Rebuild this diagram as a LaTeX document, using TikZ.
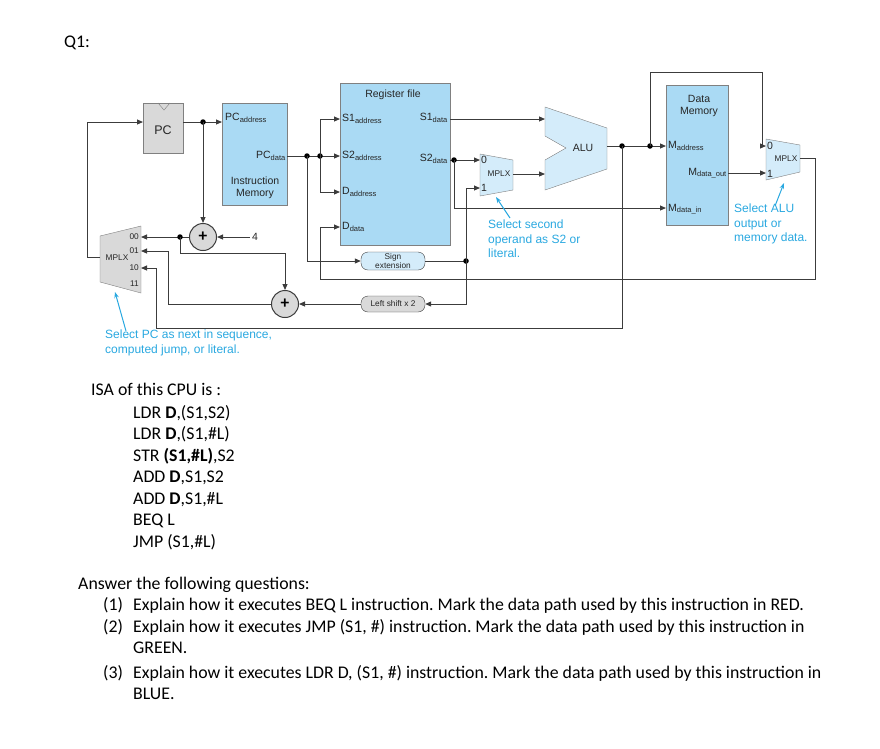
\documentclass[tikz,border=0pt]{standalone}
\usepackage{fontspec}
\setmainfont{Carlito}
\newfontfamily\dsf{Liberation Sans}
\usetikzlibrary{arrows.meta,calc}
\definecolor{rfblue}{RGB}{170,218,244}
\definecolor{lblue}{RGB}{212,236,250}
\definecolor{gbox}{RGB}{217,217,217}
\definecolor{annot}{RGB}{41,168,224}
\definecolor{wire}{RGB}{60,60,60}
\newcommand{\sbs}[1]{\textsubscript{\fontsize{7.5}{7.5}\selectfont #1}}
\frenchspacing
\begin{document}
\begin{tikzpicture}[x=1pt,y=-1pt,
  w/.style={draw=wire,line width=1pt},
  a/.style={w,-{Triangle[length=6pt,width=5pt]}},
  dot/.style={circle,fill=black,inner sep=0pt,minimum size=5.5pt},
  lb/.style={font=\dsf\fontsize{10.5}{12}\selectfont,inner sep=0pt,text=black!85},
  sm/.style={font=\dsf\fontsize{8.3}{9}\selectfont,inner sep=0pt,text=black!85},
  an/.style={font=\dsf\fontsize{12}{14.5}\selectfont,text=annot,align=left,inner sep=0pt,anchor=north west},
  aa/.style={draw=annot,line width=1pt,-{Stealth[length=6pt]}},
  qt/.style={font=\fontsize{17.8}{21}\selectfont\frenchspacing,inner sep=0pt,anchor=base west}]
\useasboundingbox (0,0) rectangle (880,748);
% boxes
\draw[draw=gray,fill=gbox] (143,103) rectangle (183,153);
\draw[draw=gray] (158,103)--(164,110)--(170,103);
\node[lb,font=\dsf\fontsize{12.5}{13}\selectfont] (pc) at (163,130) {PC};
\draw[draw=gray,fill=rfblue] (222,103) rectangle (287,205);
\node[lb] (im) at (255,188) [align=center]{Instruction\\Memory};
\node[lb,anchor=west] at (225,118) {PC\sbs{address}};
\node[lb,anchor=east] at (286,156) {PC\sbs{data}};
\draw[draw=gray,fill=rfblue] (340,83) rectangle (450,245);
\node[lb] (rf) at (393,95) {Register file};
\node[lb,anchor=west] at (342,119) {S1\sbs{address}};
\node[lb,anchor=west] at (342,156) {S2\sbs{address}};
\node[lb,anchor=west] at (342,192) {D\sbs{address}};
\node[lb,anchor=west] at (342,227) {D\sbs{data}};
\node[lb,anchor=east] at (448,118) {S1\sbs{data}};
\node[lb,anchor=east] at (448,159) {S2\sbs{data}};
\draw[draw=gray,fill=rfblue] (666,85) rectangle (728,225);
\node[lb,align=center] (dm) at (699,106) {Data\\Memory};
\node[lb,anchor=west] at (668,146) {M\sbs{address}};
\node[lb,anchor=east] at (727,173) {M\sbs{data\_out}};
\node[lb,anchor=west] at (668,209) {M\sbs{data\_in}};
% ALU
\draw[draw=gray,fill=lblue] (545,107)--(607,128)--(607,169)--(545,190)--(545,160)--(566,148)--(545,136)--cycle;
\node[lb] (alu) at (583,148) {ALU};
% small MPLX
\draw[draw=gray,fill=lblue] (480,154)--(513,160)--(513,190)--(480,196)--cycle;
\node[sm] (mx2) at (499,174) {MPLX};
\node[lb,anchor=west] at (481,160) {0};
\node[lb,anchor=west] at (481,188) {1};
% right MPLX
\draw[draw=gray,fill=lblue] (766,139)--(800,145)--(800,172)--(766,180)--cycle;
\node[sm] (mx3) at (786,159) {MPLX};
\node[lb,anchor=west] at (767,146) {0};
\node[lb,anchor=west] at (767,174) {1};
% left MPLX
\draw[draw=gray,fill=gbox] (100,236)--(141,226)--(141,293)--(100,282)--cycle;
\node[sm] (mx1) at (117,258) {MPLX};
\node[sm,anchor=east] at (139,237) {00};
\node[sm,anchor=east] at (139,251) {01};
\node[sm,anchor=east] at (139,268) {10};
\node[sm,anchor=east] at (139,284) {11};
% adders
\node[circle,draw=wire,fill=gbox,minimum size=27pt,inner sep=0pt,line width=1pt,font=\bfseries\LARGE] (ad1) at (203,237) {+};
\node[circle,draw=wire,fill=gbox,minimum size=27pt,inner sep=0pt,line width=1pt,font=\bfseries\LARGE] (ad2) at (285,304) {+};
\node[rounded corners=7pt,draw=wire,fill=lblue,minimum width=64pt,minimum height=18pt,inner sep=0pt,sm,align=center] (se) at (393,261) {Sign\\extension};
\node[rounded corners=7pt,draw=wire,fill=gbox,minimum width=64pt,minimum height=16pt,inner sep=0pt,sm] (ls) at (393,304) {Left shift x 2};
\node[lb] (four) at (255,237) {4};
% wires
\draw[a] (100,257)--(87,257)--(87,122)--(143,122);
\draw[a] (183,122)--(222,122);
\node[dot] at (203,122) {};
\draw[a] (203,122)--(ad1.north);
\draw[a] (250,237)--(ad1.east);
\draw[a] (ad1.west)--(141,237);
\node[dot] at (180,237) {};
\draw[a] (180,237)--(180,253)--(285,253)--(ad2.north);
\draw[a] (ad2.west)--(168,304)--(168,251)--(141,251);
\draw[a] (ls.west)--(ad2.east);
\draw[w] (287,156)--(320,156);
\draw[a] (320,156)--(340,156);
\node[dot] at (307,156) {};
\node[dot] at (320,156) {};
\draw[a] (320,156)--(320,119)--(340,119);
\draw[a] (320,156)--(320,192)--(340,192);
\draw[a] (307,156)--(307,261)--(se.west);
\draw[w] (se.east)--(466,261);
\node[dot] at (466,261) {};
\draw[a] (466,261)--(466,188)--(480,188);
\draw[a] (466,261)--(466,304)--(ls.east);
\draw[a] (450,119)--(545,119);
\draw[a] (450,160)--(480,160);
\node[dot] at (454,160) {};
\draw[a] (454,160)--(454,208)--(666,208);
\draw[a] (513,174)--(545,174);
\draw[a] (607,146)--(666,146);
\node[dot] at (622,146) {};
\node[dot] at (650,146) {};
\draw[a] (650,146)--(650,72)--(762,72)--(762,146)--(766,146);
\draw[a] (728,173)--(766,173);
\draw[a] (622,146)--(622,328)--(156,328)--(156,268)--(141,268);
\draw[a] (800,158)--(815,158)--(815,279)--(320,279)--(320,227)--(340,227);
% annotations
\node[an] at (105,330) {Select PC as next in sequence,\\computed jump, or literal.};
\draw[aa] (126,331)--(115,292);
\node[an] at (488,220) {Select second\\operand as S2 or\\literal.};
\draw[aa] (510,218)--(496,197);
\node[an] at (734,204) {Select ALU\\output or\\memory data.};
\draw[aa] (775,206)--(784,183);
% text
\node[qt] (q) at (64,47) {Q1:};
\node[qt] (isa) at (91,395) {ISA of this CPU is :};
\node[qt] at (133,418) {LDR \textbf{D},(S1,S2)};
\node[qt] at (133,439.5) {LDR \textbf{D},(S1,\#L)};
\node[qt] at (133,461) {STR \textbf{(S1,\#L)},S2};
\node[qt] at (133,482.5) {ADD \textbf{D},S1,S2};
\node[qt] at (133,504) {ADD \textbf{D},S1,\#L};
\node[qt] at (133,525.5) {BEQ L};
\node[qt] at (133,547) {JMP (S1,\#L)};
\node[qt] at (78,589) {Answer the following questions:};
\node[qt] at (103,610) {(1)};
\node[qt] at (133,610) {Explain how it executes BEQ L instruction. Mark the data path used by this instruction in RED.};
\node[qt] at (103,632) {(2)};
\node[qt] at (133,632) {Explain how it executes JMP (S1, \#) instruction. Mark the data path used by this instruction in};
\node[qt] at (133,653) {GREEN.};
\node[qt] at (103,678) {(3)};
\node[qt] at (133,678) {Explain how it executes LDR D, (S1, \#) instruction. Mark the data path used by this instruction in};
\node[qt] at (133,699) {BLUE.};
\end{tikzpicture}
\end{document}
